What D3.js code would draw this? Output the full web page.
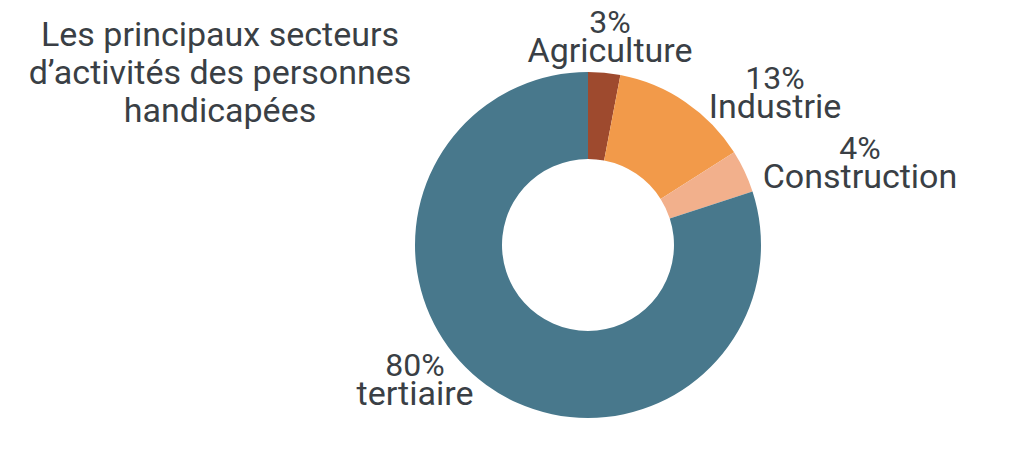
<!DOCTYPE html>
<html><head><meta charset="utf-8">
<script src="https://cdn.jsdelivr.net/npm/d3@7"></script>
<style>body{margin:0;background:#fff}text{font-family:Roboto,sans-serif;fill:#3a3f45}</style>
</head><body>
<svg width="1024" height="461"></svg>
<script>
// data
const sectors = ["Agriculture", "Industrie", "Construction", "tertiaire"];
const shares = [3, 13, 4, 80];
const colors = ["#9e4a2e", "#f29a4a", "#f2b08c", "#48788c"];
const titleLines = ["Les principaux secteurs", "d’activités des personnes", "handicapées"];
// label anchor positions (text placement only)
const labelPos = [[610, 22], [775, 78], [860, 148], [415, 365]];

const svg = d3.select("svg");

svg.selectAll("text.title")
  .data(titleLines)
  .enter().append("text")
  .attr("x", 220).attr("y", (d, i) => 46 + i * 38)
  .attr("text-anchor", "middle")
  .style("font-size", "34px")
  .text(d => d);

const g = svg.append("g").attr("transform", "translate(588,245)");
const pie = d3.pie().sort(null).value(d => d);
const arc = d3.arc().innerRadius(86).outerRadius(173);

g.selectAll("path")
  .data(pie(shares))
  .enter().append("path")
  .attr("d", arc)
  .attr("fill", (d, i) => colors[i]);

const lab = svg.selectAll("g.lab")
  .data(sectors)
  .enter().append("g")
  .attr("transform", (d, i) => `translate(${labelPos[i][0]},${labelPos[i][1]})`);
lab.append("text").attr("text-anchor", "middle").attr("y", 11)
  .style("font-size", "32px").text((d, i) => shares[i] + "%");
lab.append("text").attr("text-anchor", "middle").attr("y", 40)
  .style("font-size", "34px").text(d => d);
</script>
</body></html>
